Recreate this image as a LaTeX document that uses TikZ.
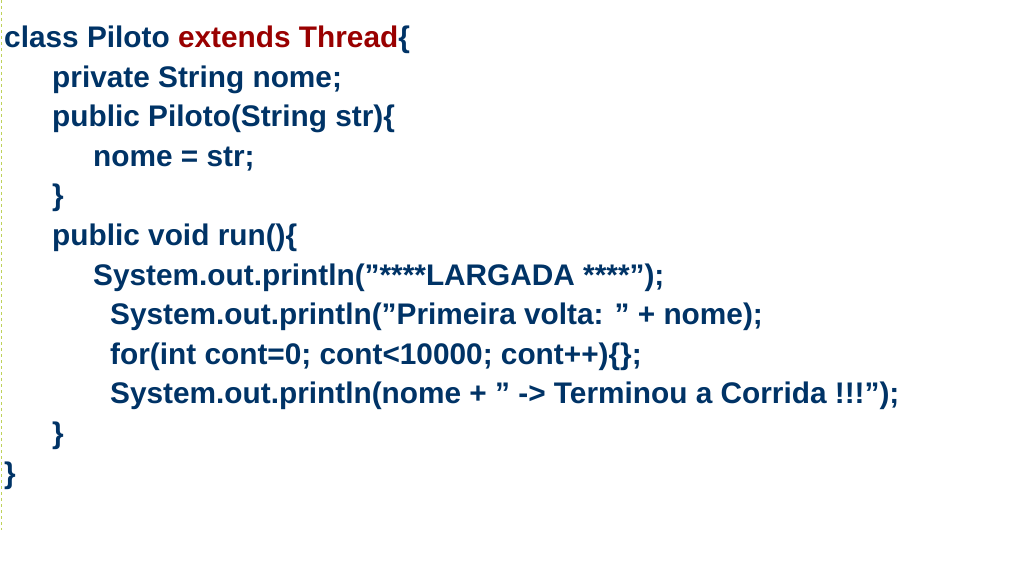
\documentclass[tikz,border=0pt]{standalone}
\usepackage{fontspec}
\setmainfont[Ligatures=NoCommon]{Liberation Sans}
\definecolor{cblue}{RGB}{0,51,102}
\definecolor{cred}{RGB}{153,0,0}
\definecolor{cline}{RGB}{190,210,90}
\newcommand{\dq}{\symbol{34}}
\begin{document}
\begin{tikzpicture}[x=1pt,y=-1pt,
  code/.style={anchor=base west,inner sep=0pt,text=cblue,font=\fontsize{29.8}{34}\selectfont\bfseries}]
\useasboundingbox (0,0) rectangle (1019,569);
\draw[cline,dash pattern=on 3pt off 3pt,line width=1pt] (1,0) -- (1,530);
\node[code] (l1) at (4,48) {class Piloto \textcolor{cred}{extends Thread}\{};
\node[code] (l2) at (52,87.5) {private String nome;};
\node[code] (l3) at (52,127) {public Piloto(String str)\{};
\node[code] (l4) at (93,166.5) {nome = str;};
\node[code] (l5) at (52,206) {\}};
\node[code] (l6) at (52,245.5) {public void run()\{};
\node[code] (l7) at (93,285) {System.out.println(\dq****LARGADA ****\dq);};
\node[code] (l8) at (110,324.5) {System.out.println(”Primeira volta: \dq{} + nome);};
\node[code] (l9) at (110,364) {for(int cont=0; cont<10000; cont++)\{\};};
\node[code] (l10) at (110,403.5) {System.out.println(nome + \dq{} -> Terminou a Corrida !!!\dq);};
\node[code] (l11) at (52,443) {\}};
\node[code] (l12) at (4,483) {\}};
\end{tikzpicture}
\end{document}
